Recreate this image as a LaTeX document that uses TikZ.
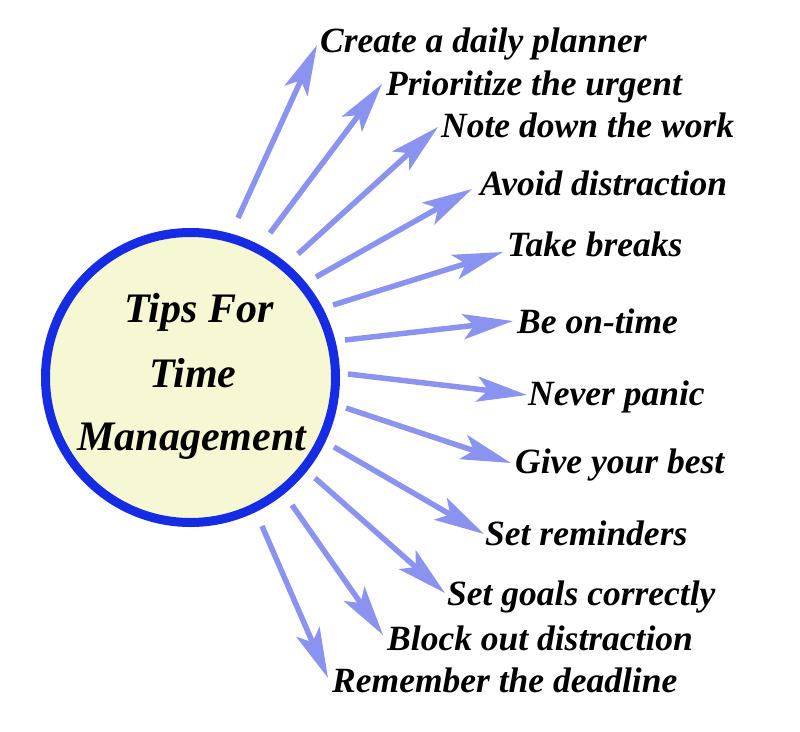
\documentclass[tikz,border=0pt]{standalone}
\usepackage{fontspec}
\setmainfont{Liberation Serif}
\usetikzlibrary{arrows.meta}
\definecolor{arrowblue}{RGB}{138,148,240}
\definecolor{ringblue}{RGB}{22,44,228}
\definecolor{paleyellow}{RGB}{246,248,212}
\tikzset{
  tip/.style={draw=arrowblue, line width=5.5pt,
    -{Stealth[length=50pt, width=25pt, inset=11pt]}},
  lab/.style={anchor=base west, inner sep=0pt, font=\fontsize{35.5}{38}\selectfont\bfseries\itshape},
  ttl/.style={anchor=base, inner sep=0pt, font=\fontsize{42}{44}\selectfont\bfseries\itshape},
}
\begin{document}
\begin{tikzpicture}[x=1pt,y=-1pt]
\useasboundingbox (0,0) rectangle (800,731);
\node[circle, draw=ringblue, line width=9pt, fill=paleyellow, minimum size=290pt, inner sep=0pt] (c) at (190.5,377.5) {};
\node[ttl] (t1) at (199,322) {Tips For};
\node[ttl] (t2) at (193,387) {Time};
\node[ttl] (t3) at (192,450) {Management};
% labels
\node[lab] (l1) at (320,52) {Create a daily planner};
\node[lab] (l2) at (386,95) {Prioritize the urgent};
\node[lab] (l3) at (441,137) {Note down the work};
\node[lab] (l4) at (480,195) {Avoid distraction};
\node[lab] (l5) at (507,256) {Take breaks};
\node[lab] (l6) at (517,333) {Be on-time};
\node[lab] (l7) at (528,405) {Never panic};
\node[lab] (l8) at (515,473) {Give your best};
\node[lab] (l9) at (485,545) {Set reminders};
\node[lab] (l10) at (447,605) {Set goals correctly};
\node[lab] (l11) at (387,650) {Block out distraction};
\node[lab] (l12) at (332,692) {Remember the deadline};
% arrow ends
\coordinate (s1) at (238,218);  \coordinate (e1) at (317,45);
\coordinate (s2) at (270,233);  \coordinate (e2) at (382,84);
\coordinate (s3) at (298,254);  \coordinate (e3) at (438,127);
\coordinate (s4) at (316,277);  \coordinate (e4) at (472,189);
\coordinate (s5) at (333,305);  \coordinate (e5) at (503,252);
\coordinate (s6) at (345,340);  \coordinate (e6) at (513,321);
\coordinate (s7) at (348,374);  \coordinate (e7) at (527,395);
\coordinate (s8) at (346,408);  \coordinate (e8) at (511,463);
\coordinate (s9) at (334,447);  \coordinate (e9) at (484,534);
\coordinate (s10) at (315,478); \coordinate (e10) at (445,593);
\coordinate (s11) at (292,505); \coordinate (e11) at (383,635);
\coordinate (s12) at (262,526); \coordinate (e12) at (328,678);
\foreach \i in {1,...,12} { \draw[tip] (s\i) -- (e\i); }
\end{tikzpicture}
\end{document}
